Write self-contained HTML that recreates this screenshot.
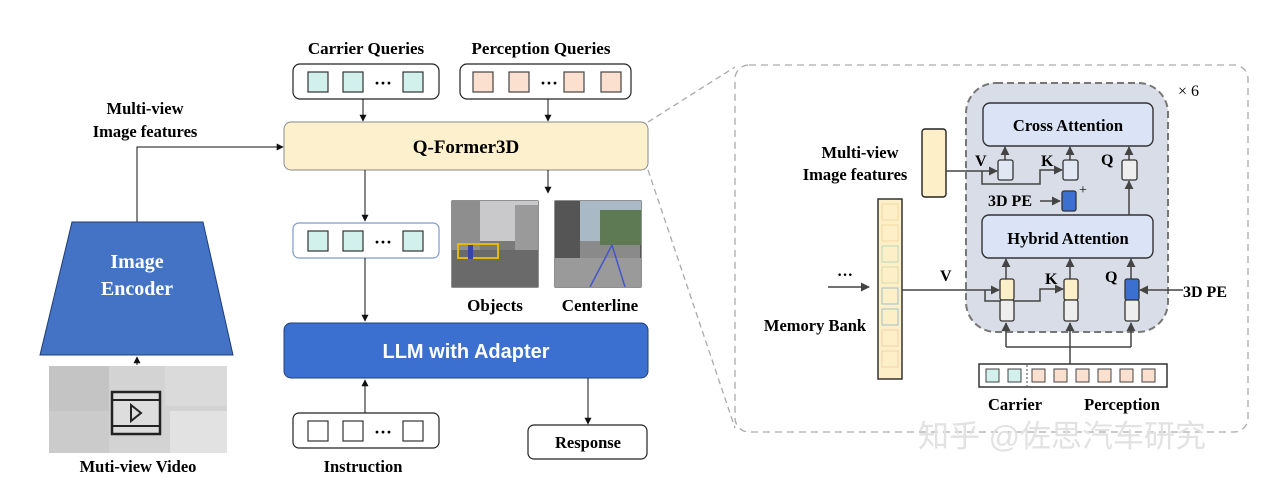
<!DOCTYPE html>
<html><head><meta charset="utf-8"><style>
html,body{margin:0;padding:0;background:#fff;}
svg{display:block;font-family:"Liberation Serif",serif;font-weight:bold;}
</style></head><body>
<svg width="1269" height="490" viewBox="0 0 1269 490" xmlns="http://www.w3.org/2000/svg">
<defs>
<marker id="a" viewBox="0 0 10 10" refX="9" refY="5" markerWidth="7" markerHeight="7" orient="auto"><path d="M0,0L10,5L0,10z" fill="#111"/></marker>
<marker id="g" viewBox="0 0 10 10" refX="9" refY="5" markerWidth="6" markerHeight="6" orient="auto"><path d="M0,0L10,5L0,10z" fill="#444"/></marker>
</defs>
<text x="366" y="54" font-size="17" text-anchor="middle">Carrier Queries</text>
<text x="541" y="54" font-size="17" text-anchor="middle">Perception Queries</text>
<rect x="293" y="64" width="146" height="35" rx="7" fill="#fff" stroke="#222" stroke-width="1.2"/>
<g fill="#d2f0ec" stroke="#333" stroke-width="1.2"><rect x="308" y="72" width="20" height="20"/><rect x="343" y="72" width="20" height="20"/><rect x="403" y="72" width="20" height="20"/></g>
<text x="383" y="89" font-size="18" text-anchor="middle">···</text>
<rect x="460" y="64" width="171" height="35" rx="7" fill="#fff" stroke="#222" stroke-width="1.2"/>
<g fill="#fbe0cf" stroke="#444" stroke-width="1.2"><rect x="473" y="72" width="20" height="20"/><rect x="509" y="72" width="20" height="20"/><rect x="564" y="72" width="20" height="20"/><rect x="601" y="72" width="20" height="20"/></g>
<text x="549" y="89" font-size="18" text-anchor="middle">···</text>
<line x1="363" y1="99" x2="363" y2="121" stroke="#111" marker-end="url(#a)"/>
<line x1="548" y1="99" x2="548" y2="121" stroke="#111" marker-end="url(#a)"/>
<rect x="284" y="122" width="364" height="48" rx="7" fill="#fdf0cc" stroke="#8a8a8a" stroke-width="1"/>
<text x="466" y="153" font-size="19" text-anchor="middle">Q-Former3D</text>
<text x="145" y="114" font-size="16.5" text-anchor="middle">Multi-view</text>
<text x="145" y="137" font-size="16.5" text-anchor="middle">Image features</text>
<polyline points="137,222 137,147 283,147" fill="none" stroke="#111" marker-end="url(#a)"/>
<polygon points="72,222 203,222 233,355 40,355" fill="#4472c4" stroke="#1f3d78" stroke-width="1"/>
<text x="137" y="268" font-size="20" fill="#fff" text-anchor="middle">Image</text>
<text x="137" y="295" font-size="20" fill="#fff" text-anchor="middle">Encoder</text>
<line x1="137" y1="365" x2="137" y2="357" stroke="#111" marker-end="url(#a)"/>
<rect x="49" y="366" width="178" height="87" fill="#d3d3d3"/>
<rect x="49" y="366" width="60" height="45" fill="#c4c4c4"/><rect x="165" y="366" width="62" height="40" fill="#dadada"/><rect x="49" y="411" width="60" height="42" fill="#cbcbcb"/><rect x="170" y="411" width="57" height="42" fill="#e2e2e2"/>
<rect x="112" y="392" width="48" height="42" fill="#ddd" stroke="#222" stroke-width="2.5"/>
<line x1="112" y1="400" x2="160" y2="400" stroke="#222" stroke-width="2" /><line x1="112" y1="426" x2="160" y2="426" stroke="#222" stroke-width="2"/>
<path d="M131,405 L141,413 L131,421z" fill="none" stroke="#222" stroke-width="2"/>
<text x="138" y="472" font-size="16.5" text-anchor="middle">Muti-view Video</text>
<line x1="365" y1="170" x2="365" y2="221" stroke="#111" marker-end="url(#a)"/>
<line x1="548" y1="170" x2="548" y2="193" stroke="#111" marker-end="url(#a)"/>
<rect x="293" y="223" width="146" height="35" rx="6" fill="#fff" stroke="#7d9bd0" stroke-width="1.2"/>
<g fill="#d2f0ec" stroke="#333" stroke-width="1.2"><rect x="308" y="231" width="20" height="20"/><rect x="343" y="231" width="20" height="20"/><rect x="403" y="231" width="20" height="20"/></g>
<text x="383" y="248" font-size="18" text-anchor="middle">···</text>
<line x1="365" y1="258" x2="365" y2="321" stroke="#111" marker-end="url(#a)"/>
<rect x="452" y="201" width="86" height="86" fill="#7a7a7a" stroke="#222"/>
<rect x="452" y="201" width="86" height="40" fill="#c9c9cc"/><rect x="452" y="201" width="28" height="50" fill="#8e8e8e"/><rect x="515" y="205" width="23" height="45" fill="#9a9a9a"/><rect x="452" y="250" width="86" height="37" fill="#6a6a6a"/>
<rect x="458" y="244" width="40" height="14" fill="none" stroke="#e6b800" stroke-width="2"/><rect x="468" y="245" width="5" height="14" fill="#3344aa"/>
<rect x="555" y="201" width="86" height="86" fill="#8a8a8a" stroke="#222"/>
<rect x="555" y="201" width="86" height="40" fill="#a9b9c6"/><rect x="555" y="201" width="25" height="60" fill="#555"/><rect x="600" y="210" width="41" height="35" fill="#5d7a55"/><rect x="555" y="258" width="86" height="29" fill="#9a9a9a"/>
<line x1="590" y1="287" x2="612" y2="245" stroke="#4455cc" stroke-width="1.5"/><line x1="625" y1="287" x2="612" y2="245" stroke="#4455cc" stroke-width="1.5"/>
<text x="495" y="311" font-size="17" text-anchor="middle">Objects</text>
<text x="600" y="311" font-size="17" text-anchor="middle">Centerline</text>
<rect x="284" y="323" width="364" height="55" rx="7" fill="#3b6fd0" stroke="#203f7a" stroke-width="1"/>
<text x="466" y="358" font-size="20" fill="#fff" text-anchor="middle" font-family="Liberation Sans, sans-serif">LLM with Adapter</text>
<line x1="365" y1="413" x2="365" y2="380" stroke="#111" marker-end="url(#a)"/>
<rect x="293" y="413" width="146" height="35" rx="6" fill="#fff" stroke="#222" stroke-width="1.2"/>
<g fill="#fff" stroke="#333" stroke-width="1.2"><rect x="308" y="421" width="20" height="20"/><rect x="343" y="421" width="20" height="20"/><rect x="403" y="421" width="20" height="20"/></g>
<text x="383" y="438" font-size="18" text-anchor="middle">···</text>
<text x="363" y="472" font-size="16.5" text-anchor="middle">Instruction</text>
<line x1="588" y1="378" x2="588" y2="424" stroke="#111" marker-end="url(#a)"/>
<rect x="528" y="425" width="119" height="34" rx="6" fill="#fff" stroke="#222" stroke-width="1.2"/>
<text x="588" y="448" font-size="16.5" text-anchor="middle">Response</text>
<line x1="648" y1="122" x2="735" y2="67" stroke="#aaa" stroke-dasharray="6,4" stroke-width="1.3"/>
<line x1="648" y1="170" x2="735" y2="428" stroke="#aaa" stroke-dasharray="6,4" stroke-width="1.3"/>
<rect x="735" y="65" width="513" height="367" rx="14" fill="none" stroke="#aaa" stroke-dasharray="7,5" stroke-width="1.3"/>
<rect x="966" y="83" width="202" height="249" rx="30" fill="#d9dde7" stroke="#777" stroke-dasharray="7,4" stroke-width="2"/>
<text x="1178" y="96" font-size="16" font-weight="normal">× 6</text>
<rect x="983" y="103" width="170" height="43" rx="7" fill="#dbe4f6" stroke="#333" stroke-width="1.4"/>
<text x="1068" y="131" font-size="16.5" text-anchor="middle">Cross Attention</text>
<rect x="982" y="215" width="171" height="43" rx="7" fill="#dbe4f6" stroke="#333" stroke-width="1.4"/>
<text x="1068" y="244" font-size="16.5" text-anchor="middle">Hybrid Attention</text>
<text x="860" y="158" font-size="16.5" text-anchor="middle">Multi-view</text>
<text x="855" y="180" font-size="16.5" text-anchor="middle">Image features</text>
<rect x="922" y="129" width="24" height="68" rx="3" fill="#fdefc8" stroke="#222" stroke-width="1.4"/>
<g stroke="#444" stroke-width="1.5" fill="none">
<polyline points="946,171 997,171" marker-end="url(#g)"/>
<polyline points="982,171 982,184 1040,184 1040,170 1062,170" marker-end="url(#g)"/>
<line x1="1040" y1="201" x2="1060" y2="201" marker-end="url(#g)"/>
<line x1="1005" y1="160" x2="1005" y2="147" marker-end="url(#g)"/>
<line x1="1070" y1="160" x2="1070" y2="147" marker-end="url(#g)"/>
<line x1="1129" y1="160" x2="1129" y2="147" marker-end="url(#g)"/>
<line x1="1129" y1="215" x2="1129" y2="181" marker-end="url(#g)"/>
</g>
<rect x="998" y="160" width="15" height="20" rx="2" fill="#e2e8f3" stroke="#333" stroke-width="1.3"/>
<rect x="1063" y="160" width="15" height="20" rx="2" fill="#e2e8f3" stroke="#333" stroke-width="1.3"/>
<rect x="1122" y="160" width="15" height="20" rx="2" fill="#eee" stroke="#333" stroke-width="1.3"/>
<rect x="1062" y="191" width="14" height="20" rx="2" fill="#3b6fd0" stroke="#333" stroke-width="1.3"/>
<text x="975" y="166" font-size="16">V</text>
<text x="1041" y="166" font-size="16">K</text>
<text x="1101" y="165" font-size="16">Q</text>
<text x="988" y="206" font-size="16">3D PE</text>
<text x="1079" y="194" font-size="14" font-weight="normal">+</text>
<rect x="878" y="199" width="24" height="180" fill="#fdefc8" stroke="#333" stroke-width="1.5"/>
<g fill="none" stroke-width="1"><rect x="882" y="204" width="16" height="16" stroke="#f3d9a0"/><rect x="882" y="225" width="16" height="16" stroke="#f3d9a0"/><rect x="882" y="246" width="16" height="16" stroke="#b9d9b9"/><rect x="882" y="267" width="16" height="16" stroke="#d6dca6"/><rect x="882" y="288" width="16" height="16" stroke="#9fc2cc"/><rect x="882" y="309" width="16" height="16" stroke="#9fc2cc"/><rect x="882" y="330" width="16" height="16" stroke="#f3d0b0"/><rect x="882" y="351" width="16" height="16" stroke="#f3d0b0"/></g>
<text x="845" y="280" font-size="16" text-anchor="middle">···</text>
<line x1="828" y1="287" x2="869" y2="287" stroke="#444" stroke-width="1.5" marker-end="url(#g)"/>
<text x="815" y="331" font-size="16.5" text-anchor="middle">Memory Bank</text>
<g stroke="#444" stroke-width="1.5" fill="none">
<line x1="902" y1="290" x2="999" y2="290" marker-end="url(#g)"/>
<polyline points="985,290 985,301 1040,301 1040,289 1063,289" marker-end="url(#g)"/>
<line x1="1183" y1="290" x2="1140" y2="290" marker-end="url(#g)"/>
<line x1="1006" y1="279" x2="1006" y2="259" marker-end="url(#g)"/>
<line x1="1070" y1="279" x2="1070" y2="259" marker-end="url(#g)"/>
<line x1="1131" y1="279" x2="1131" y2="259" marker-end="url(#g)"/>
<polyline points="1006,347 1131,347"/>
<line x1="1006" y1="347" x2="1006" y2="323" marker-end="url(#g)"/>
<line x1="1131" y1="347" x2="1131" y2="323" marker-end="url(#g)"/>
<line x1="1070" y1="364" x2="1070" y2="323" marker-end="url(#g)"/>
</g>
<rect x="1000" y="279" width="14" height="21" rx="2" fill="#fdefc8" stroke="#333" stroke-width="1.3"/>
<rect x="1000" y="300" width="14" height="21" rx="2" fill="#eee" stroke="#333" stroke-width="1.3"/>
<rect x="1064" y="279" width="14" height="21" rx="2" fill="#fdefc8" stroke="#333" stroke-width="1.3"/>
<rect x="1064" y="300" width="14" height="21" rx="2" fill="#eee" stroke="#333" stroke-width="1.3"/>
<rect x="1125" y="279" width="14" height="21" rx="2" fill="#3b6fd0" stroke="#333" stroke-width="1.3"/>
<rect x="1125" y="300" width="14" height="21" rx="2" fill="#eee" stroke="#333" stroke-width="1.3"/>
<text x="940" y="281" font-size="16">V</text>
<text x="1045" y="284" font-size="16">K</text>
<text x="1105" y="282" font-size="16">Q</text>
<text x="1183" y="297" font-size="16">3D PE</text>
<rect x="979" y="364" width="188" height="23" fill="#fff" stroke="#333" stroke-width="1.5"/>
<g stroke="#444" stroke-width="1"><rect x="986" y="369" width="13" height="13" fill="#d2f0ec"/><rect x="1008" y="369" width="13" height="13" fill="#d2f0ec"/>
<rect x="1032" y="369" width="13" height="13" fill="#fbe0cf"/><rect x="1054" y="369" width="13" height="13" fill="#fbe0cf"/><rect x="1076" y="369" width="13" height="13" fill="#fbe0cf"/><rect x="1098" y="369" width="13" height="13" fill="#fbe0cf"/><rect x="1120" y="369" width="13" height="13" fill="#fbe0cf"/><rect x="1142" y="369" width="13" height="13" fill="#fbe0cf"/></g>
<line x1="1027" y1="365" x2="1027" y2="386" stroke="#444" stroke-dasharray="2,2"/>
<text x="1015" y="410" font-size="16.5" text-anchor="middle">Carrier</text>
<text x="1122" y="410" font-size="16.5" text-anchor="middle">Perception</text>
<text x="1062" y="447" font-size="31" font-weight="normal" fill="#e2e2e2" text-anchor="middle" font-family="Liberation Sans, Noto Sans CJK SC, sans-serif">知乎 @佐思汽车研究</text>
</svg>
</body></html>
